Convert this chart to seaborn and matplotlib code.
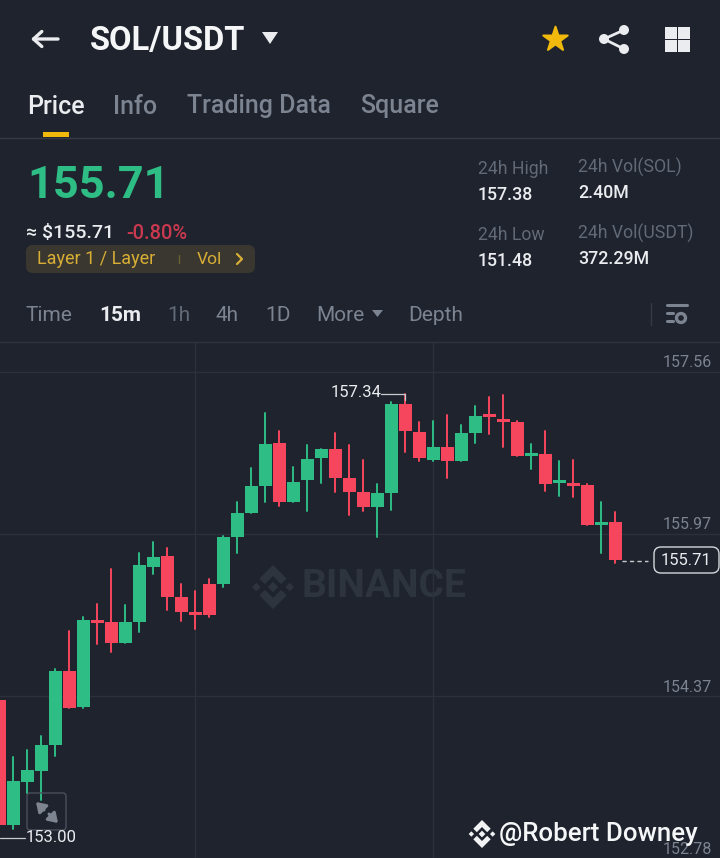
import numpy as np
import pandas as pd
import matplotlib
matplotlib.use("Agg")
import matplotlib.pyplot as plt
from matplotlib.patches import Polygon, FancyBboxPatch, Rectangle, Circle
import seaborn as sns

# ---- data (prices) ----
body_top = [154.33,153.54,153.65,153.89,154.62,154.62,155.12,155.12,155.10,155.10,155.66,155.74,155.75,155.35,155.20,155.47,
            155.94,156.17,156.44,156.85,156.86,156.48,156.70,156.80,156.80,156.52,156.38,156.37,157.25,157.25,156.97,156.82,
            156.82,156.96,157.13,157.15,157.10,157.07,156.76,156.75,156.50,156.47,156.45,156.08,156.08]
body_bottom = [153.10,153.10,153.53,153.64,153.89,154.26,154.27,155.09,154.89,154.89,155.10,155.64,155.35,155.20,155.17,155.17,
               155.47,155.94,156.17,156.44,156.28,156.28,156.50,156.71,156.52,156.38,156.23,156.23,156.37,156.98,156.71,156.69,
               156.68,156.68,156.96,157.12,157.07,156.73,156.73,156.46,156.47,156.44,156.06,156.06,155.71]
highs = [154.34,153.77,153.84,153.98,154.64,155.01,155.15,155.28,155.62,155.27,155.78,155.89,155.83,155.47,155.41,155.52,
         155.95,156.28,156.62,157.16,156.98,156.63,156.84,156.80,156.96,156.84,156.69,156.46,157.26,157.34,157.07,157.08,
         157.14,157.04,157.23,157.31,157.33,157.08,156.85,156.98,156.68,156.69,156.46,156.28,156.18]
lows = [153.00,153.07,153.42,153.35,153.78,154.26,154.26,154.88,154.81,154.89,155.00,155.57,155.22,155.11,155.03,155.15,
        155.45,155.78,156.17,156.28,156.24,156.28,156.19,156.47,156.38,156.15,156.19,155.94,156.20,156.77,156.68,156.68,
        156.52,156.68,156.86,156.95,156.82,156.73,156.61,156.39,156.34,156.33,156.06,155.78,155.68]
direction = list("dUUUUdUddUUUddddUUUUdUUUddd") + list("UUddUdUUdddUdUddUd")
axis_prices = [157.56, 155.97, 154.37, 152.78]
axis_labels = ["157.56", "155.97", "154.37", "152.78"]
vgrid_candles = [14, 31]

BG = "#1E232D"; GREEN = "#2EBD85"; RED = "#F6465D"; GRID = "#2B303A"
WHITE = "#EAECEF"; MUTED = "#7C8391"; DIM = "#626A78"; YEL = "#F0B90B"

sns.set_theme(style="dark", rc={"figure.facecolor": BG, "axes.facecolor": BG})
plt.rcParams["font.family"] = ["Roboto", "DejaVu Sans"]

df = pd.DataFrame({"i": range(45), "top": body_top, "bottom": body_bottom,
                   "high": highs, "low": lows, "dir": direction})
df["h"] = df["top"] - df["bottom"]
wicks = df.melt(id_vars=["i", "dir"], value_vars=["high", "low"], value_name="price")

fig = plt.figure(figsize=(7.2, 8.58), dpi=100, facecolor=BG)
H = 858.0
back = fig.add_axes([0, 0, 1, 1], zorder=0); back.set_xlim(0, 720); back.set_ylim(H, 0); back.axis("off")
ax = fig.add_axes([0, 0, 1, (H - 342) / H], zorder=1)
ax.patch.set_alpha(0)
top = fig.add_axes([0, 0, 1, 1], zorder=2); top.set_xlim(0, 720); top.set_ylim(H, 0); top.axis("off")

# ---- candles ----
sns.lineplot(data=wicks, x="i", y="price", hue="dir", units="i", estimator=None, sort=False,
             palette={"U": GREEN, "d": RED}, linewidth=1.4, legend=False, ax=ax, zorder=3)
for key, col in (("U", GREEN), ("d", RED)):
    sub = df[df["dir"] == key]
    sns.barplot(x=sub["i"].values, y=sub["h"].values, bottom=sub["bottom"].values, native_scale=True,
                width=0.89, color=col, saturation=1, errorbar=None, ax=ax, zorder=4, linewidth=0, edgecolor=col)
ax.set_xlim(0.05, 51.48)
ax.set_ylim(152.822, 157.855)
ax.set_yticks(axis_prices); ax.set_xticks(vgrid_candles)
ax.set_xticklabels([]); ax.set_yticklabels([])
ax.set_xlabel(""); ax.set_ylabel("")
ax.grid(True, color=GRID, lw=1); ax.set_axisbelow(True)
ax.tick_params(length=0)
for s in ax.spines.values():
    s.set_visible(False)
for p, l in zip(axis_prices, axis_labels):
    ax.annotate(l, xy=(1, p), xycoords=("axes fraction", "data"), xytext=(-8, 9), textcoords="offset pixels",
                ha="right", va="center", color=MUTED, fontsize=11.5, zorder=6, annotation_clip=False)

def T(a, x, y, s, size, color, weight="normal", ha="left", **kw):
    return a.text(x, y + 1.5, s, fontsize=size, color=color, fontweight=weight, ha=ha, va="center", **kw)

# ---- logos ----
def logo(a, cx, cy, r, col):
    s = r * 0.24
    for dx, q in ((0, s), (-r * .76, s * .8), (r * .76, s * .8)):
        a.add_patch(Polygon([(cx + dx - q, cy), (cx + dx, cy - q), (cx + dx + q, cy), (cx + dx, cy + q)], color=col, lw=0))
    t = r * .25
    for sg in (-1, 1):
        a.add_patch(Polygon([(cx - r * .62, cy + sg * r * .38), (cx, cy + sg * r), (cx + r * .62, cy + sg * r * .38),
                             (cx + r * .62 - t, cy + sg * (r * .38 - t)), (cx, cy + sg * (r - 2 * t)), (cx - r * .62 + t, cy + sg * (r * .38 - t))],
                            color=col, lw=0))

logo(back, 273, 587, 22, "#2E343E")
T(back, 302, 585, "BINANCE", 28, "#2E343E", "bold")

# ---- header ----
top.annotate("", xy=(31, 39), xytext=(58, 39), arrowprops=dict(arrowstyle="->,head_width=0.45,head_length=0.5", color=WHITE, lw=2.4, shrinkA=0, shrinkB=0))
T(top, 90, 39, "SOL/USDT", 23.5, "#F5F6F7", "bold")
top.add_patch(Polygon([(262, 32), (278, 32), (270, 44)], color=WHITE, lw=0))
top.scatter([555], [39], marker="*", s=340, color=YEL, linewidths=1.5, edgecolors=YEL)
for (x, y) in ((624, 30), (604, 39), (624, 49)):
    top.add_patch(Circle((x, y), 5, color=WHITE, lw=0))
top.plot([624, 604, 624], [30, 39, 49], color=WHITE, lw=2)
for x in (665, 678):
    for y in (27, 40):
        top.add_patch(Rectangle((x, y), 11.5, 11.5, color=WHITE, lw=0))

# ---- tabs ----
T(top, 27, 105, "Price", 18, WHITE, "medium")
T(top, 113, 105, "Info", 18, MUTED, "medium")
T(top, 187, 105, "Trading Data", 18, MUTED, "medium")
T(top, 360, 105, "Square", 18, MUTED, "medium")
top.add_patch(Rectangle((43, 132), 26, 5, color=YEL, lw=0))
top.plot([0, 720], [137.5, 137.5], color="#353A44", lw=1)

# ---- price block ----
T(top, 27, 185, "155.71", 32.5, GREEN, "bold")
T(top, 26, 232, "≈ $155.71", 14, WHITE, "medium")
T(top, 126, 232, "-0.80%", 14.5, "#C9394F", "medium")
top.add_patch(FancyBboxPatch((31, 250), 219, 18, boxstyle="round,pad=5,rounding_size=7", color="#39372F", lw=0))
T(top, 37, 258, "Layer 1 / Layer", 13, "#D8AE36")
T(top, 197, 258, "Vol", 12.5, "#D8AE36")
top.plot([179, 179], [255, 263], color="#6A6035", lw=1)
top.plot([237, 242, 237], [254, 259, 264], color="#D8AE36", lw=1.6)

T(top, 478, 168, "24h High", 12.7, DIM)
T(top, 478, 194, "157.38", 12.8, WHITE, "medium")
T(top, 578, 166, "24h Vol(SOL)", 12.7, DIM)
T(top, 578, 192, "2.40M", 12.8, WHITE, "medium")
T(top, 478, 234, "24h Low", 12.7, DIM)
T(top, 478, 260, "151.48", 12.8, WHITE, "medium")
T(top, 578, 232, "24h Vol(USDT)", 12.7, DIM)
T(top, 578, 258, "372.29M", 12.8, WHITE, "medium")

# ---- interval row ----
for x, s, c, w in ((26, "Time", MUTED, "normal"), (99, "15m", WHITE, "bold"), (167, "1h", DIM, "normal"),
                   (215, "4h", MUTED, "normal"), (265, "1D", MUTED, "normal"), (316, "More", MUTED, "normal"),
                   (408, "Depth", MUTED, "normal")):
    T(top, x, 314, s, 15, c, w)
top.add_patch(Polygon([(372, 310), (383, 310), (377.5, 317)], color=MUTED, lw=0))
top.plot([651, 651], [303, 325], color="#353A44", lw=1)
top.plot([667, 687], [305, 305], color=MUTED, lw=2.2)
top.plot([667, 673], [313, 313], color=MUTED, lw=2.2)
top.plot([667, 673], [321, 321], color=MUTED, lw=2.2)
top.add_patch(Circle((681, 318), 4.5, fill=False, ec=MUTED, lw=2.4))
top.plot([0, 720], [341.5, 341.5], color="#2E333D", lw=1)

# ---- chart annotations ----
T(top, 331, 391, "157.34", 12, WHITE)
top.plot([381, 405, 405], [393.5, 393.5, 400], color="#C8CBD0", lw=0.9)
T(top, 26, 836, "153.00", 12, WHITE)
top.plot([0, 25], [837.7, 837.7], color="#C8CBD0", lw=0.9)
top.plot([622, 648], [561, 561], color="#C8CBD0", lw=1, ls=(0, (3, 2.4)))
top.add_patch(FancyBboxPatch((658, 551), 57, 18, boxstyle="round,pad=4,rounding_size=7", fc=BG, ec="#D5D7DB", lw=1))
T(top, 686.5, 559, "155.71", 12, WHITE, ha="center")
top.add_patch(FancyBboxPatch((28, 794), 37, 35, boxstyle="round,pad=1,rounding_size=3", fc="none", ec="#4A505B", lw=1))
for a_, b_ in (((44, 810), (36, 802)), ((49, 814), (58, 823))):
    top.annotate("", xy=b_, xytext=a_, arrowprops=dict(arrowstyle="-|>,head_width=0.3,head_length=0.45", color="#7F8590", lw=2.2, shrinkA=0, shrinkB=0))

# ---- bottom-right credit ----
logo(top, 482, 834, 14, "#F2F3F4")
T(top, 499, 833, "@Robert Downey", 18.6, "#F5F6F7", "medium")

fig.savefig("out.png", dpi=100, facecolor=BG)
